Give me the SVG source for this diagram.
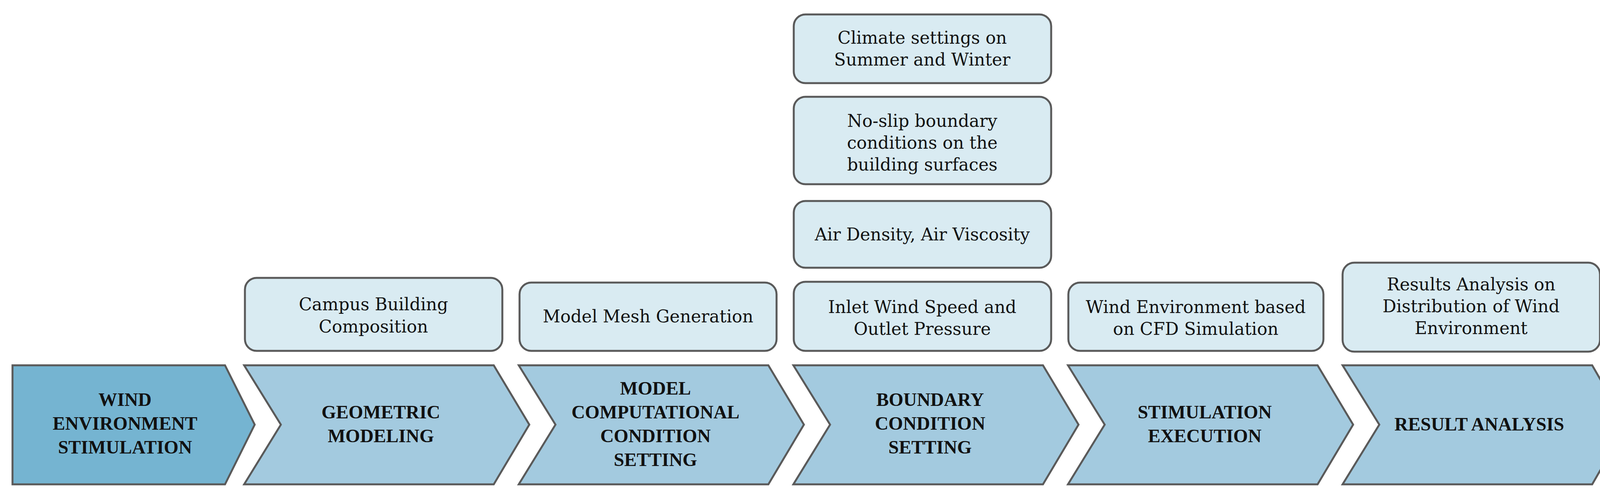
<svg xmlns="http://www.w3.org/2000/svg" width="4184" height="1276" viewBox="0 0 4184 1276">
<style>
.chev{fill:#a3cadf;stroke:#5a5a5a;stroke-width:5}
.first{fill:#75b4d1}
.box{fill:#d9ebf2;stroke:#5a5a5a;stroke-width:5}
.ct{font-family:"Liberation Serif","DejaVu Serif",serif;font-weight:bold;font-size:48px;fill:#111;text-anchor:middle}
.bt{font-family:"DejaVu Serif","Liberation Serif",serif;font-size:44px;fill:#111;text-anchor:middle}
</style>
<rect width="4184" height="1276" fill="#fff"/>
<g id="connectors"></g>
<g id="n1"><path class="chev first" d="M32,936 H576 L652,1088 L576,1241 H32 Z"/>
<text class="ct" x="320" y="1040">WIND</text><text class="ct" x="320" y="1101">ENVIRONMENT</text><text class="ct" x="320" y="1162">STIMULATION</text></g>
<g id="n2"><path class="chev" d="M625,936 H1264 L1355,1088 L1264,1241 H625 L719,1088 Z"/>
<text class="ct" x="975" y="1072">GEOMETRIC</text><text class="ct" x="975" y="1133">MODELING</text></g>
<g id="n3"><path class="chev" d="M1328,936 H1967 L2058,1088 L1967,1241 H1328 L1422,1088 Z"/>
<text class="ct" x="1678" y="1011">MODEL</text><text class="ct" x="1678" y="1072">COMPUTATIONAL</text><text class="ct" x="1678" y="1133">CONDITION</text><text class="ct" x="1678" y="1194">SETTING</text></g>
<g id="n4"><path class="chev" d="M2031,936 H2670 L2761,1088 L2670,1241 H2031 L2125,1088 Z"/>
<text class="ct" x="2381" y="1040">BOUNDARY</text><text class="ct" x="2381" y="1101">CONDITION</text><text class="ct" x="2381" y="1162">SETTING</text></g>
<g id="n5"><path class="chev" d="M2734,936 H3373 L3464,1088 L3373,1241 H2734 L2828,1088 Z"/>
<text class="ct" x="3084" y="1072">STIMULATION</text><text class="ct" x="3084" y="1133">EXECUTION</text></g>
<g id="n6"><path class="chev" d="M3437,936 H4076 L4164,1088 L4076,1241 H3437 L3531,1088 Z"/>
<text class="ct" x="3787" y="1103">RESULT ANALYSIS</text></g>
<g id="b1"><rect class="box" x="627" y="712" width="659" height="187" rx="30"/>
<text class="bt" x="956" y="795">Campus Building</text><text class="bt" x="956" y="852">Composition</text></g>
<g id="b2"><rect class="box" x="1330" y="724" width="658" height="175" rx="30"/>
<text class="bt" x="1659" y="826">Model Mesh Generation</text></g>
<g id="b3"><rect class="box" x="2032" y="37" width="659" height="176" rx="30"/>
<text class="bt" x="2361" y="112">Climate settings on</text><text class="bt" x="2361" y="168">Summer and Winter</text></g>
<g id="b4"><rect class="box" x="2032" y="248" width="659" height="224" rx="30"/>
<text class="bt" x="2361" y="325">No-slip boundary</text><text class="bt" x="2361" y="381">conditions on the</text><text class="bt" x="2361" y="437">building surfaces</text></g>
<g id="b5"><rect class="box" x="2032" y="515" width="659" height="171" rx="30"/>
<text class="bt" x="2361" y="616">Air Density, Air Viscosity</text></g>
<g id="b6"><rect class="box" x="2032" y="722" width="659" height="177" rx="30"/>
<text class="bt" x="2361" y="802">Inlet Wind Speed and</text><text class="bt" x="2361" y="858">Outlet Pressure</text></g>
<g id="b7"><rect class="box" x="2735" y="724" width="653" height="175" rx="30"/>
<text class="bt" x="3061" y="802">Wind Environment based</text><text class="bt" x="3061" y="858">on CFD Simulation</text></g>
<g id="b8"><rect class="box" x="3437" y="673" width="659" height="228" rx="30"/>
<text class="bt" x="3766" y="744">Results Analysis on</text><text class="bt" x="3766" y="800">Distribution of Wind</text><text class="bt" x="3766" y="856">Environment</text></g>
</svg>
